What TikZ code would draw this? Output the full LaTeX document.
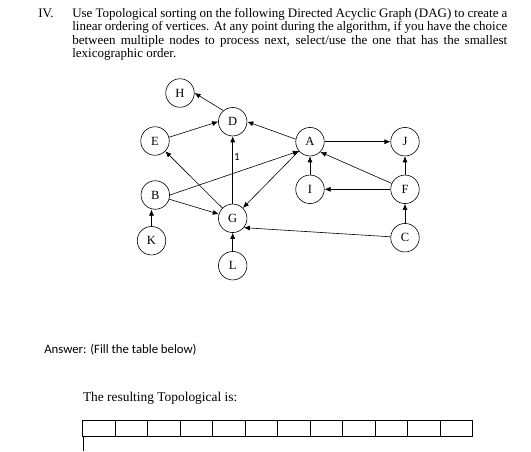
\documentclass[tikz,border=0pt]{standalone}
\usepackage{fontspec}
\setmainfont{Liberation Serif}
\newfontfamily\calfont{Carlito}
\usepackage{tikz}
\usetikzlibrary{arrows.meta}

\tikzset{
  vtx/.style={draw,circle,minimum size=28.5pt,inner sep=0pt,font=\fontsize{12.5}{13}\selectfont},
  arr/.style={-{Latex[length=6pt,width=5pt]}},
  txt/.style={anchor=base west,inner sep=0pt,font=\fontsize{13}{13.4}\selectfont}
}

\begin{document}
\begin{tikzpicture}[x=1pt,y=-1pt,line width=0.6pt]
  \useasboundingbox (0,0) rectangle (531,451);
  \node[txt] (num) at (38,17.3){IV.};
  \node[txt,text width=435pt,align=justify] (task) at (72,17.3){Use Topological sorting on the following Directed Acyclic Graph (DAG) to create a\linebreak linear ordering of vertices. At any point during the algorithm, if you have the choice\linebreak between multiple nodes to process next, select/use the one that has the smallest\linebreak lexicographic order.};

  \node[vtx] (H) at (180,93){H};
  \node[vtx] (D) at (232.7,121.7){D};
  \node[vtx] (E) at (155,141){E};
  \node[vtx] (A) at (310,141.7){A};
  \node[vtx] (J) at (405,141.7){J};
  \node[vtx] (I) at (310,189.3){I};
  \node[vtx] (F) at (405,189.3){F};
  \node[vtx] (B) at (155.3,195){B};
  \node[vtx] (G) at (232.7,218.3){G};
  \node[vtx] (C) at (405,237.7){C};
  \node[vtx] (K) at (151.5,240.7){K};
  \node[vtx] (L) at (232.7,265.7){L};

  \draw[arr](D.130)--(H.east);
  \draw[arr](E.15)--(D.west);
  \draw[arr](A.170)--(D.east);
  \draw[arr](G)--node[pos=0.69,right,inner sep=1pt,font=\calfont\fontsize{11}{12}\selectfont]{1}(D);
  \draw[arr](G)--(E);
  \draw[arr](B.east)--(A.220);
  \draw[arr](A.220)--(G);
  \draw[arr](B)--(G);
  \draw[arr](K)--(K |- B.south);
  \draw[arr](L)--(G);
  \draw[arr](C)--(G.-40);
  \draw[arr](I)--(A);
  \draw[arr](A)--(J);
  \draw[arr](F)--(J);
  \draw[arr](F)--(I);
  \draw[arr](F)--(A.-45);
  \draw[arr](C)--(F);

  \node[anchor=base west,inner sep=0pt,font=\calfont\fontsize{12.75}{14}\selectfont] (ans) at (44,353){Answer: (Fill the table below)};
  \node[txt,font=\fontsize{13.4}{14}\selectfont] (res) at (82.7,401){The resulting Topological is:};
  \foreach \i in {0,...,11}
    \draw[line width=0.9pt] (82.7+32.5*\i,420.7) rectangle ++(32.5,15.3);
  \draw[line width=0.9pt] (83.4,436)--(83.4,451);
\end{tikzpicture}
\end{document}
